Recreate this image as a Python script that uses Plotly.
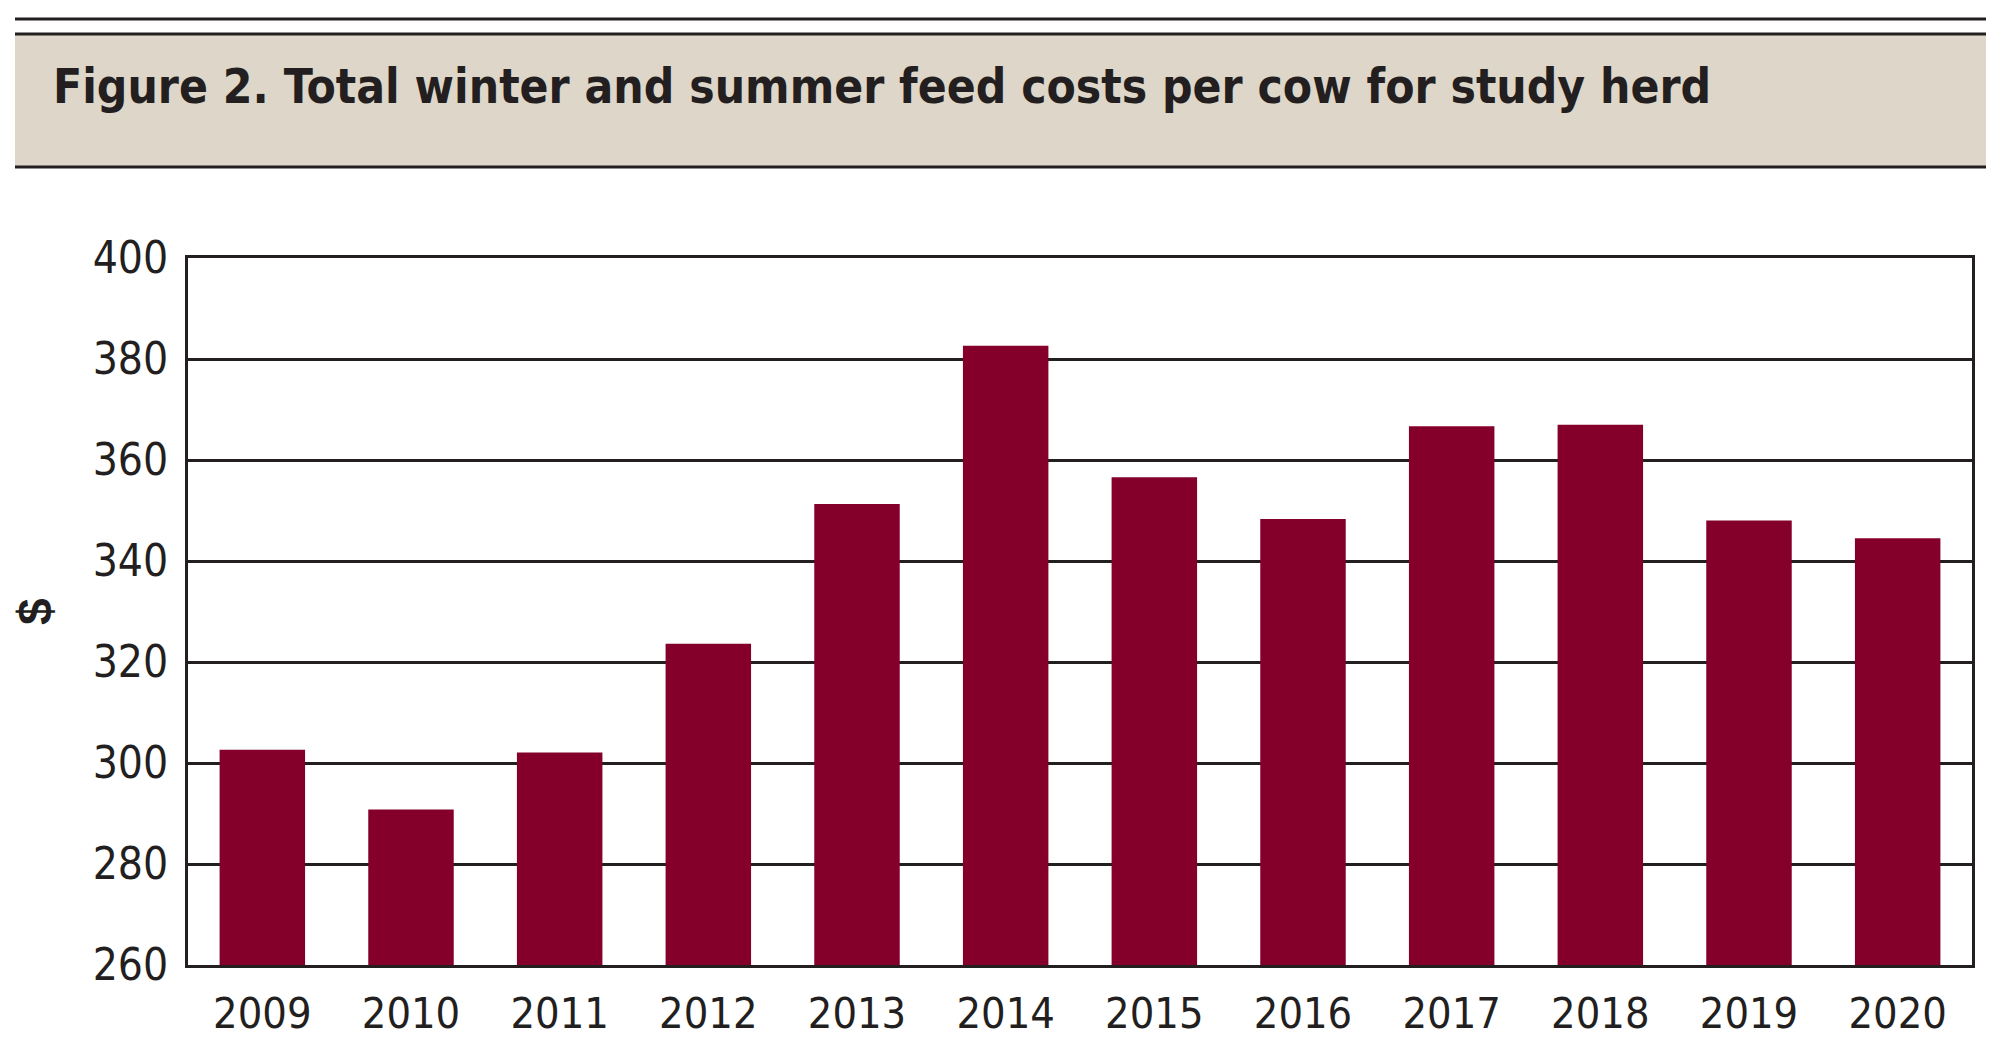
import plotly.graph_objects as go

years = ["2009", "2010", "2011", "2012", "2013", "2014",
         "2015", "2016", "2017", "2018", "2019", "2020"]
feed_cost = [302.6, 290.8, 302.1, 323.6, 351.3, 382.6,
             356.6, 348.3, 366.7, 367.0, 348.0, 344.5]
y_ticks = [260, 280, 300, 320, 340, 360, 380, 400]

title_text = "Figure 2. Total winter and summer feed costs per cow for study herd"
y_title = "$"

W, H = 2000, 1055
ML, MR, MT, MB = 188, 28, 258, 90
PW = W - ML - MR
PH = H - MT - MB


def px(x):
    return (x - ML) / PW


def py(y):
    return (H - MB - y) / PH


DARK = "#231F20"
BAR = "#84002A"
BEIGE = "#DED6C8"
NARROW = "DejaVu Sans Condensed, Liberation Sans Narrow, Roboto, sans-serif"

fig = go.Figure()
fig.add_trace(go.Bar(x=years, y=feed_cost, marker=dict(color=BAR, line=dict(width=0)),
                     hoverinfo="x+y"))

shapes = [
    dict(type="line", xref="paper", yref="paper", x0=px(15), x1=px(1986), y0=py(19), y1=py(19),
         line=dict(color=DARK, width=3)),
    dict(type="rect", xref="paper", yref="paper", x0=px(15), x1=px(1986), y0=py(34), y1=py(167),
         fillcolor=BEIGE, line=dict(width=0), layer="below"),
    dict(type="line", xref="paper", yref="paper", x0=px(15), x1=px(1986), y0=py(34), y1=py(34),
         line=dict(color=DARK, width=3)),
    dict(type="line", xref="paper", yref="paper", x0=px(15), x1=px(1986), y0=py(167), y1=py(167),
         line=dict(color=DARK, width=3)),
]

annotations = [
    dict(text="<b>" + title_text + "</b>", xref="paper", yref="paper",
         x=px(51), y=py(87), xanchor="left", yanchor="middle", showarrow=False,
         font=dict(family=NARROW, size=47.5, color=DARK)),
    dict(text="<b>" + y_title + "</b>", xref="paper", yref="paper",
         x=px(34), y=py(612), xanchor="center", yanchor="middle", showarrow=False,
         textangle=-90,
         font=dict(family="Liberation Sans", size=48, color=DARK)),
]

fig.update_layout(
    width=W, height=H,
    margin=dict(l=ML, r=MR, t=MT, b=MB, pad=0),
    paper_bgcolor="white", plot_bgcolor="white",
    bargap=0.425,
    showlegend=False,
    shapes=shapes,
    annotations=annotations,
    font=dict(family=NARROW, color=DARK),
)

fig.update_xaxes(
    type="category",
    showline=True, mirror=True, linecolor=DARK, linewidth=3,
    showgrid=False, ticks="",
    tickfont=dict(family=NARROW, size=43, color=DARK),
    ticklabelstandoff=8,
)
fig.update_yaxes(
    range=[260, 400], tickvals=y_ticks, ticktext=[str(v) for v in y_ticks],
    showline=True, mirror=True, linecolor=DARK, linewidth=3,
    showgrid=True, gridcolor=DARK, gridwidth=2.5,
    zeroline=False, ticks="",
    tickfont=dict(family=NARROW, size=44, color=DARK),
    ticklabelstandoff=8,
)

fig.write_html("out.html")
